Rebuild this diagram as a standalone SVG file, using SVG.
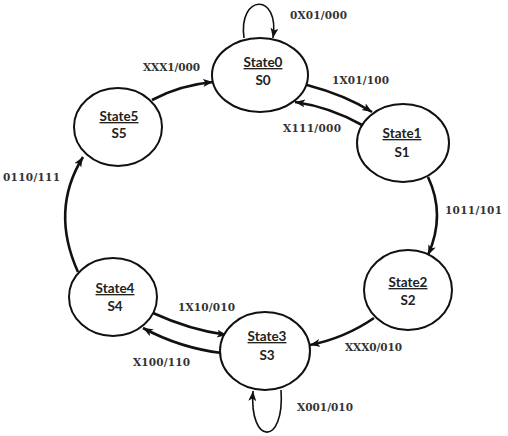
<svg xmlns="http://www.w3.org/2000/svg" width="508" height="436" viewBox="0 0 508 436">
<style>
.node ellipse{fill:#fff;stroke:#111;stroke-width:2}
.nt{font-family:Lato,"Liberation Sans",sans-serif;font-weight:700;font-size:13.5px;fill:#222;text-anchor:middle}
.u{text-decoration:underline}
.lbl{font-family:"DejaVu Serif","Liberation Serif",serif;font-weight:700;font-size:10.5px;fill:#333}
.edge{fill:none;stroke:#111;stroke-width:2.6}
.loop{fill:none;stroke:#111;stroke-width:1.6}
</style>
<defs>
<marker id="ah" markerUnits="userSpaceOnUse" markerWidth="12" markerHeight="10" refX="10" refY="4" orient="auto" viewBox="0 0 12 10">
<path d="M0,0 L10,4 L0,8 L2.5,4 z" fill="#111"/>
</marker>
</defs>
<rect width="508" height="436" fill="#fff"/>
<g id="connectors">
<path class="loop" d="M244,38 C238,-6 280,-8 273,38" marker-end="url(#ah)"/>
<path class="edge" d="M307,85 Q345,95 372,112" marker-end="url(#ah)"/>
<path class="edge" d="M362,125 Q330,107 295,102" marker-end="url(#ah)"/>
<path class="edge" d="M428,177 Q446,215 428,255" marker-end="url(#ah)"/>
<path class="edge" d="M374,318 Q345,338 310,345" marker-end="url(#ah)"/>
<path class="loop" d="M281,390 C285,446 249,446 253,391" marker-end="url(#ah)"/>
<path class="edge" d="M222,353 Q180,348 143,328" marker-end="url(#ah)"/>
<path class="edge" d="M153,313 Q190,330 227,335" marker-end="url(#ah)"/>
<path class="edge" d="M78,272 Q50,210 83,157" marker-end="url(#ah)"/>
<path class="edge" d="M152,100 Q180,85 213,82" marker-end="url(#ah)"/>
</g>
<g id="labels">
<text class="lbl" x="290" y="19" textLength="57">0X01/000</text>
<text class="lbl" x="332" y="84" textLength="57">1X01/100</text>
<text class="lbl" x="283" y="132" textLength="58">X111/000</text>
<text class="lbl" x="143" y="71" textLength="57">XXX1/000</text>
<text class="lbl" x="3" y="181" textLength="57">0110/111</text>
<text class="lbl" x="445" y="214" textLength="57">1011/101</text>
<text class="lbl" x="178" y="311" textLength="57">1X10/010</text>
<text class="lbl" x="133" y="366" textLength="57">X100/110</text>
<text class="lbl" x="345" y="351" textLength="57">XXX0/010</text>
<text class="lbl" x="297" y="411" textLength="56">X001/010</text>
</g>
<g id="S0" class="node">
<ellipse cx="260" cy="75" rx="48" ry="37"/>
<text class="nt u" x="263" y="67">State0</text>
<text class="nt" x="263" y="85">S0</text>
</g>
<g id="S1" class="node">
<ellipse cx="403" cy="143" rx="46" ry="39"/>
<text class="nt u" x="402" y="138">State1</text>
<text class="nt" x="402" y="157">S1</text>
</g>
<g id="S2" class="node">
<ellipse cx="408" cy="290" rx="44" ry="40"/>
<text class="nt u" x="408" y="287">State2</text>
<text class="nt" x="408" y="305">S2</text>
</g>
<g id="S3" class="node">
<ellipse cx="265" cy="351" rx="45" ry="39"/>
<text class="nt u" x="267" y="341">State3</text>
<text class="nt" x="267" y="360">S3</text>
</g>
<g id="S4" class="node">
<ellipse cx="113" cy="297" rx="44" ry="39"/>
<text class="nt u" x="115" y="293">State4</text>
<text class="nt" x="115" y="311">S4</text>
</g>
<g id="S5" class="node">
<ellipse cx="118" cy="127" rx="44" ry="39"/>
<text class="nt u" x="119" y="121">State5</text>
<text class="nt" x="119" y="138">S5</text>
</g>
</svg>
